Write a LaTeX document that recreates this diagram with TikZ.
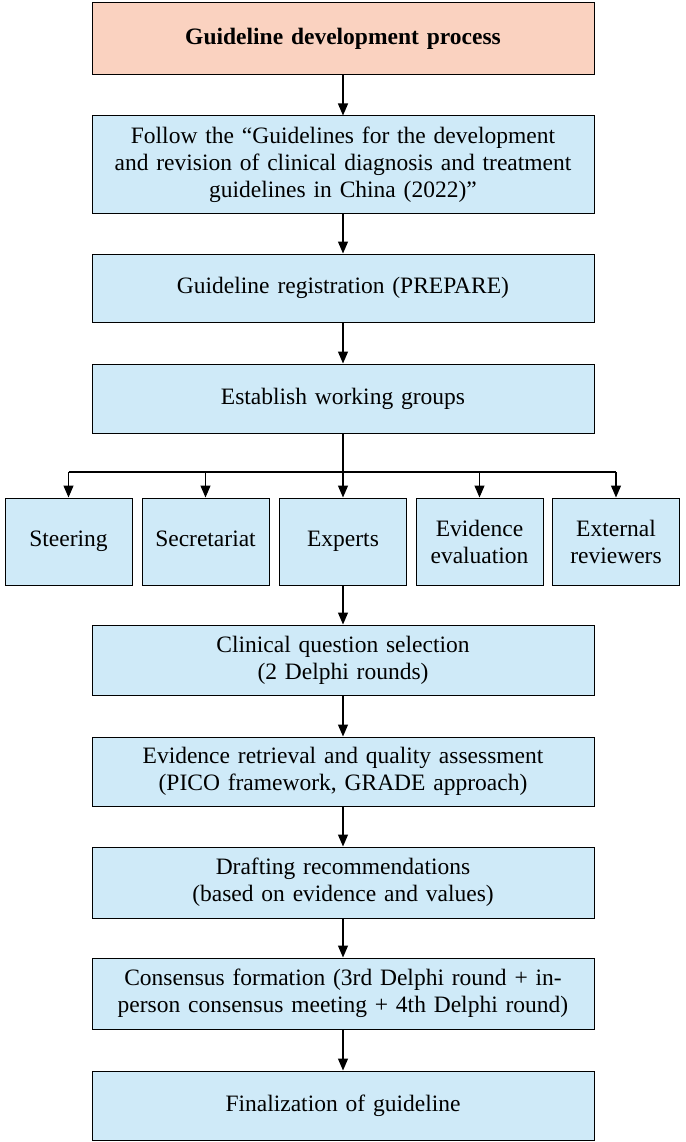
\documentclass[tikz,border=0pt]{standalone}
\usepackage{fontspec}
\setmainfont{Liberation Serif}
\usetikzlibrary{arrows.meta, positioning}
\definecolor{boxblue}{RGB}{207, 234, 248}
\definecolor{boxsalmon}{RGB}{250, 210, 192}

\begin{document}
\begin{tikzpicture}[x=1pt, y=-1pt]
    % Styles
    \tikzstyle{block} = [rectangle, draw=black, fill=boxblue, line width=1pt,
        minimum width=502pt, text width=494pt, align=center,
        font=\fontsize{23.5}{27}\selectfont, inner sep=0pt]
    \tikzstyle{group} = [block, minimum width=127pt, text width=125pt, minimum height=87pt]
    \tikzstyle{arrow} = [line width=1.2pt, -{Triangle[length=12pt, width=10pt]}]
    \useasboundingbox (0,0) rectangle (685,1142);

    % Nodes
    \node [block, fill=boxsalmon, minimum height=72pt, font=\fontsize{23.5}{27}\selectfont\bfseries] (process) at (343,39) {Guideline development process};
    \node [block, minimum height=97pt] (follow) at (343,164.5) {Follow the “Guidelines for the development\\and revision of clinical diagnosis and treatment\\guidelines in China (2022)”};
    \node [block, minimum height=68pt] (regist) at (343,288) {Guideline registration (PREPARE)};
    \node [block, minimum height=69pt] (groups) at (343,398.5) {Establish working groups};
    \node [group] (steer) at (68.5,541.5) {\strut Steering};
    \node [group] (secret) at (205.5,541.5) {\strut Secretariat};
    \node [group] (expert) at (343,541.5) {\strut Experts};
    \node [group] (evid) at (479.5,541.5) {Evidence\\evaluation};
    \node [group] (extern) at (616,541.5) {External\\reviewers};
    \node [block, minimum height=70pt] (select) at (343,660) {Clinical question selection\\(2 Delphi rounds)};
    \node [block, minimum height=69pt] (retriev) at (343,771.5) {Evidence retrieval and quality assessment\\(PICO framework, GRADE approach)};
    \node [block, minimum height=71pt] (draft) at (343,882.5) {Drafting recommendations\\(based on evidence and values)};
    \node [block, minimum height=71pt] (consens) at (343,993.5) {Consensus formation (3rd Delphi round + in-\\person consensus meeting + 4th Delphi round)};
    \node [block, minimum height=69pt] (final) at (343,1105.5) {Finalization of guideline};
    \coordinate (branch) at (343,472);

    % Arrows
    \draw [arrow] (process) -- (follow);
    \draw [arrow] (follow) -- (regist);
    \draw [arrow] (regist) -- (groups);
    \draw [line width=1.2pt] (groups) -- (branch);
    \draw [line width=1.2pt] (steer.north |- branch) -- (extern.north |- branch);
    \foreach \g in {steer, secret, expert, evid, extern}
        \draw [arrow] (\g.north |- branch) -- (\g);
    \draw [arrow] (expert) -- (select);
    \draw [arrow] (select) -- (retriev);
    \draw [arrow] (retriev) -- (draft);
    \draw [arrow] (draft) -- (consens);
    \draw [arrow] (consens) -- (final);
\end{tikzpicture}
\end{document}
